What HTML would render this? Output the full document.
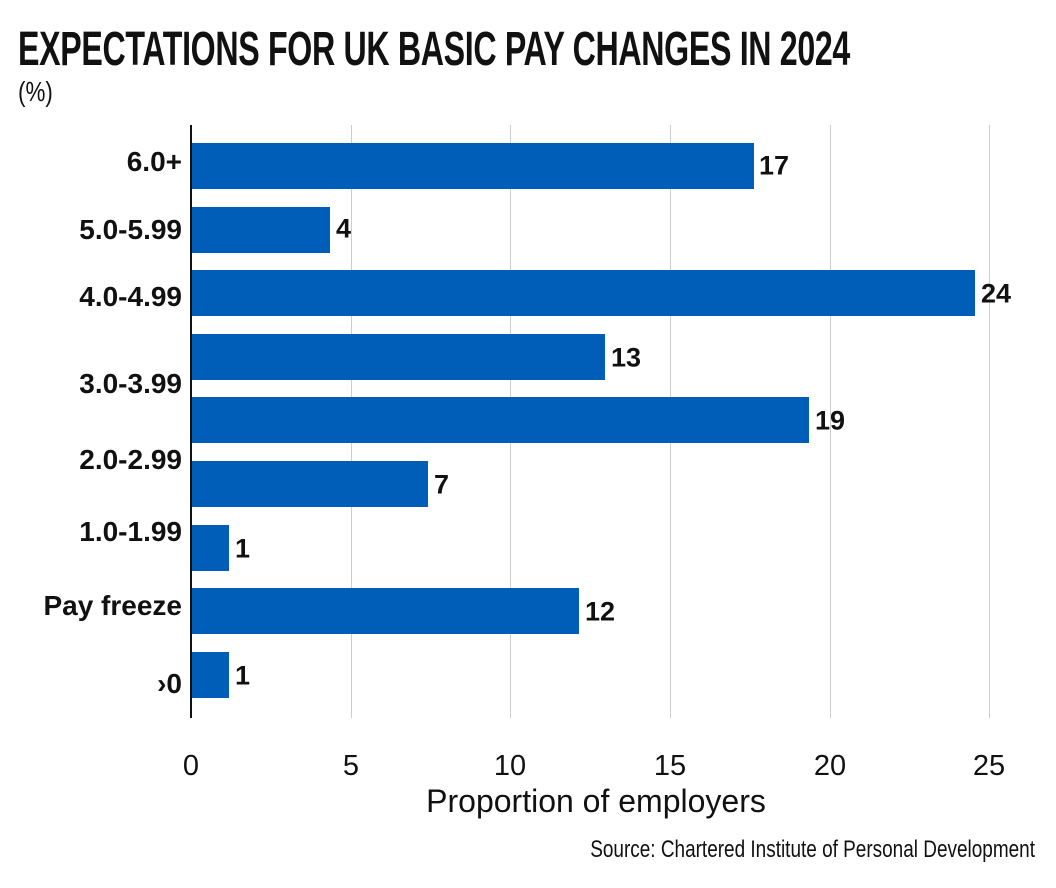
<!DOCTYPE html><html><head><style>
body{margin:0;width:1056px;height:888px;background:#fff;position:relative;overflow:hidden;font-family:"Liberation Sans",sans-serif;color:#111}
.a{position:absolute;white-space:nowrap}
.bar{position:absolute;left:191px;background:#005eb8;height:46px}
.g{position:absolute;top:125px;height:593px;width:1px;background:#ccc}
.yl{position:absolute;right:874px;font-size:28px;font-weight:bold;transform:translateY(-50%)}
.vl{position:absolute;font-size:27px;font-weight:bold;transform:translateY(-50%)}
.t{position:absolute;top:750px;font-size:29px;transform:translateX(-50%)}
</style></head><body>
<div class="a" style="left:18px;top:22px;font-size:48px;font-weight:bold;transform:scaleX(0.67);transform-origin:left top;letter-spacing:-0.5px">EXPECTATIONS FOR UK BASIC PAY CHANGES IN 2024</div>
<div class="a" style="left:18px;top:76px;font-size:28px;transform:scaleX(0.8);transform-origin:left top">(%)</div>
<div class="g" style="left:351px"></div><div class="g" style="left:510px"></div><div class="g" style="left:670px"></div><div class="g" style="left:830px"></div><div class="g" style="left:989px"></div>
<div class="bar" style="top:143px;width:563px"></div>
<div class="bar" style="top:207px;width:139px"></div>
<div class="bar" style="top:270px;width:784px"></div>
<div class="bar" style="top:334px;width:414px"></div>
<div class="bar" style="top:397px;width:618px"></div>
<div class="bar" style="top:461px;width:237px"></div>
<div class="bar" style="top:525px;width:38px"></div>
<div class="bar" style="top:588px;width:388px"></div>
<div class="bar" style="top:652px;width:38px"></div>
<div style="position:absolute;left:190px;top:125px;width:2px;height:593px;background:#111"></div>
<div class="yl" style="top:162px">6.0+</div>
<div class="yl" style="top:230px">5.0-5.99</div>
<div class="yl" style="top:297px">4.0-4.99</div>
<div class="yl" style="top:384px">3.0-3.99</div>
<div class="yl" style="top:460px">2.0-2.99</div>
<div class="yl" style="top:532px">1.0-1.99</div>
<div class="yl" style="top:606px">Pay freeze</div>
<div class="yl" style="top:684px">›0</div>
<div class="vl" style="left:759px;top:166px">17</div>
<div class="vl" style="left:336px;top:229px">4</div>
<div class="vl" style="left:981px;top:294px">24</div>
<div class="vl" style="left:611px;top:358px">13</div>
<div class="vl" style="left:815px;top:421px">19</div>
<div class="vl" style="left:434px;top:485px">7</div>
<div class="vl" style="left:235px;top:549px">1</div>
<div class="vl" style="left:585px;top:612px">12</div>
<div class="vl" style="left:235px;top:676px">1</div>
<div class="t" style="left:191px">0</div><div class="t" style="left:351px">5</div><div class="t" style="left:510px">10</div><div class="t" style="left:670px">15</div><div class="t" style="left:830px">20</div><div class="t" style="left:989px">25</div>
<div class="a" style="left:596px;top:783px;font-size:32px;transform:translateX(-50%)">Proportion of employers</div>
<div class="a" style="right:21px;top:836px;font-size:24px;transform:scaleX(0.79);transform-origin:right top">Source: Chartered Institute of Personal Development</div>
</body></html>
